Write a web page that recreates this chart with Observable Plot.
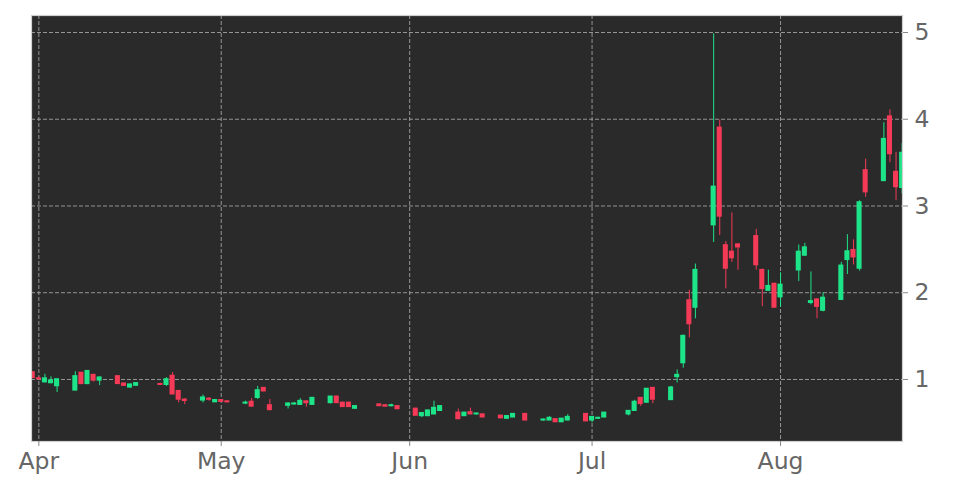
<!DOCTYPE html>
<html>
<head>
<meta charset="utf-8">
<script src="https://cdn.jsdelivr.net/npm/d3@7"></script>
<script src="https://cdn.jsdelivr.net/npm/@observablehq/plot@0.6"></script>
<style>
  html, body { margin: 0; padding: 0; background: #ffffff; }
  #chart { width: 972px; height: 486px; }
</style>
</head>
<body>
<div id="chart"></div>
<script>
const dates = [
  "2025-03-31","2025-04-01","2025-04-02","2025-04-03","2025-04-04",
  "2025-04-07","2025-04-08","2025-04-09","2025-04-10","2025-04-11",
  "2025-04-14","2025-04-15","2025-04-16","2025-04-17",
  "2025-04-21","2025-04-22","2025-04-23","2025-04-24","2025-04-25",
  "2025-04-28","2025-04-29","2025-04-30","2025-05-01","2025-05-02",
  "2025-05-05","2025-05-06","2025-05-07","2025-05-08","2025-05-09",
  "2025-05-12","2025-05-13","2025-05-14","2025-05-15","2025-05-16",
  "2025-05-19","2025-05-20","2025-05-21","2025-05-22","2025-05-23",
  "2025-05-27","2025-05-28","2025-05-29","2025-05-30",
  "2025-06-02","2025-06-03","2025-06-04","2025-06-05","2025-06-06",
  "2025-06-09","2025-06-10","2025-06-11","2025-06-12","2025-06-13",
  "2025-06-16","2025-06-17","2025-06-18","2025-06-20",
  "2025-06-23","2025-06-24","2025-06-25","2025-06-26","2025-06-27",
  "2025-06-30","2025-07-01","2025-07-02","2025-07-03",
  "2025-07-07","2025-07-08","2025-07-09","2025-07-10","2025-07-11",
  "2025-07-14","2025-07-15","2025-07-16","2025-07-17","2025-07-18",
  "2025-07-21","2025-07-22","2025-07-23","2025-07-24","2025-07-25",
  "2025-07-28","2025-07-29","2025-07-30","2025-07-31","2025-08-01",
  "2025-08-04","2025-08-05","2025-08-06","2025-08-07","2025-08-08",
  "2025-08-11","2025-08-12","2025-08-13","2025-08-14","2025-08-15",
  "2025-08-18","2025-08-19","2025-08-20","2025-08-21"
];
const opens = [
  1.08,1.01,0.97,0.96,0.925,
  0.875,1.075,0.95,1.05,0.99,
  1.035,0.95,0.91,0.93,
  0.945,0.94,1.04,0.865,0.765,
  0.76,0.775,0.74,0.76,0.745,
  0.725,0.74,0.79,0.90,0.70,
  0.70,0.715,0.71,0.745,0.71,
  0.73,0.80,0.73,0.73,0.665,
  0.71,0.70,0.695,0.69,
  0.66,0.58,0.58,0.60,0.64,
  0.615,0.58,0.62,0.60,0.595,
  0.58,0.55,0.565,0.60,
  0.53,0.53,0.54,0.51,0.53,
  0.60,0.53,0.55,0.565,
  0.60,0.64,0.785,0.735,0.90,
  0.765,1.03,1.19,1.91,1.83,
  2.78,3.90,2.545,2.47,2.555,
  2.65,2.26,2.025,2.10,1.95,
  2.26,2.43,1.885,1.92,1.795,
  1.92,2.38,2.49,2.28,3.41,
  3.29,4.03,3.39,3.21
];
const highs = [
  1.09,1.03,1.06,1.03,1.00,
  1.09,1.08,1.10,1.06,1.03,
  1.04,0.96,0.945,0.96,
  0.955,1.02,1.08,0.87,0.78,
  0.82,0.79,0.77,0.765,0.75,
  0.75,0.78,0.92,0.905,0.77,
  0.73,0.735,0.78,0.75,0.79,
  0.80,0.805,0.735,0.735,0.695,
  0.715,0.705,0.715,0.695,
  0.67,0.62,0.645,0.75,0.70,
  0.66,0.62,0.67,0.61,0.60,
  0.585,0.58,0.605,0.605,
  0.545,0.57,0.545,0.55,0.595,
  0.605,0.57,0.565,0.62,
  0.64,0.76,0.79,0.895,0.905,
  0.92,1.11,1.51,2.03,2.33,
  4.985,3.99,2.59,2.92,2.56,
  2.73,2.27,2.26,2.11,2.23,
  2.55,2.57,2.24,1.93,2.00,
  2.35,2.67,2.61,3.06,3.54,
  3.96,4.11,3.62,3.72
];
const lows = [
  1.01,0.99,0.96,0.95,0.85,
  0.87,0.94,0.94,0.97,0.93,
  0.95,0.92,0.90,0.925,
  0.93,0.92,0.83,0.73,0.71,
  0.73,0.75,0.735,0.74,0.73,
  0.71,0.68,0.77,0.86,0.64,
  0.66,0.705,0.705,0.68,0.71,
  0.72,0.73,0.68,0.68,0.66,
  0.69,0.685,0.685,0.655,
  0.58,0.56,0.575,0.595,0.635,
  0.54,0.575,0.595,0.59,0.56,
  0.55,0.545,0.56,0.525,
  0.52,0.525,0.505,0.505,0.525,
  0.515,0.50,0.54,0.56,
  0.58,0.635,0.69,0.73,0.72,
  0.76,0.96,1.13,1.48,1.70,
  2.58,2.66,2.045,2.35,2.26,
  2.26,1.84,2.02,1.83,1.83,
  2.13,2.42,1.86,1.70,1.78,
  1.91,2.21,2.32,2.25,3.10,
  3.28,3.50,3.06,3.14
];
const closes = [
  1.02,1.005,1.01,0.985,1.00,
  1.035,0.95,1.095,0.99,1.02,
  0.95,0.93,0.94,0.955,
  0.94,1.00,0.83,0.77,0.755,
  0.79,0.77,0.76,0.745,0.74,
  0.73,0.69,0.873,0.865,0.65,
  0.72,0.72,0.75,0.73,0.785,
  0.80,0.73,0.685,0.685,0.69,
  0.695,0.69,0.70,0.66,
  0.585,0.61,0.64,0.67,0.69,
  0.545,0.615,0.60,0.605,0.565,
  0.555,0.575,0.60,0.53,
  0.535,0.555,0.51,0.545,0.565,
  0.52,0.565,0.555,0.615,
  0.635,0.74,0.72,0.89,0.77,
  0.905,1.05,1.50,1.64,2.26,
  3.22,2.88,2.28,2.40,2.525,
  2.32,2.045,2.075,1.83,2.09,
  2.47,2.52,1.90,1.84,1.94,
  2.31,2.475,2.41,3.04,3.16,
  3.77,3.60,3.22,3.61
];
const monthTicks = ["2025-04-01","2025-05-01","2025-06-01","2025-07-01","2025-08-01"].map(d => new Date(d));
const yTicks = [1, 2, 3, 4, 5];

const upColor = "#1ee489";
const downColor = "#f43a56";

const data = dates.map((d, i) => ({
  date: new Date(d),
  open: opens[i], high: highs[i], low: lows[i], close: closes[i]
}));
const colorOf = d => d.close >= d.open ? upColor : downColor;

const chart = Plot.plot({
  width: 972,
  height: 486,
  marginLeft: 31,
  marginRight: 70,
  marginTop: 15,
  marginBottom: 45,
  style: { background: "#ffffff", fontFamily: "DejaVu Sans", fontSize: "23.5px", color: "#666666" },
  x: { type: "utc", domain: [new Date("2025-03-30T19:00Z"), new Date("2025-08-21T01:30Z")] },
  y: { domain: [0.285, 5.196] },
  color: { type: "identity" },
  marks: [
    Plot.frame({ fill: "#2a2a2a" }),
    Plot.gridX(monthTicks, { stroke: "#a8a8a8", strokeOpacity: 0.85, strokeDasharray: "4,2", strokeWidth: 1 }),
    Plot.gridY(yTicks, { stroke: "#a8a8a8", strokeOpacity: 0.85, strokeDasharray: "4,2", strokeWidth: 1 }),
    Plot.ruleX(data, { x: "date", y1: "low", y2: "high", stroke: colorOf, strokeWidth: 1, clip: true }),
    Plot.rect(data, {
      x1: d => d3.utcHour.offset(d.date, -10),
      x2: d => d3.utcHour.offset(d.date, 10),
      y1: "open", y2: "close",
      fill: colorOf, insetTop: -0.8, insetBottom: -0.8, clip: true
    }),
    Plot.frame({ stroke: "#d0d0d0", strokeWidth: 1.2 }),
    Plot.axisX(monthTicks, { tickFormat: d3.utcFormat("%b"), tickSize: 5, tickPadding: 6, stroke: "#888888", color: "#666666", label: null }),
    Plot.axisY(yTicks, { anchor: "right", tickFormat: d => String(d), tickSize: 5, tickPadding: 7, stroke: "#888888", color: "#666666", label: null })
  ]
});
document.getElementById("chart").appendChild(chart);
</script>
</body>
</html>
